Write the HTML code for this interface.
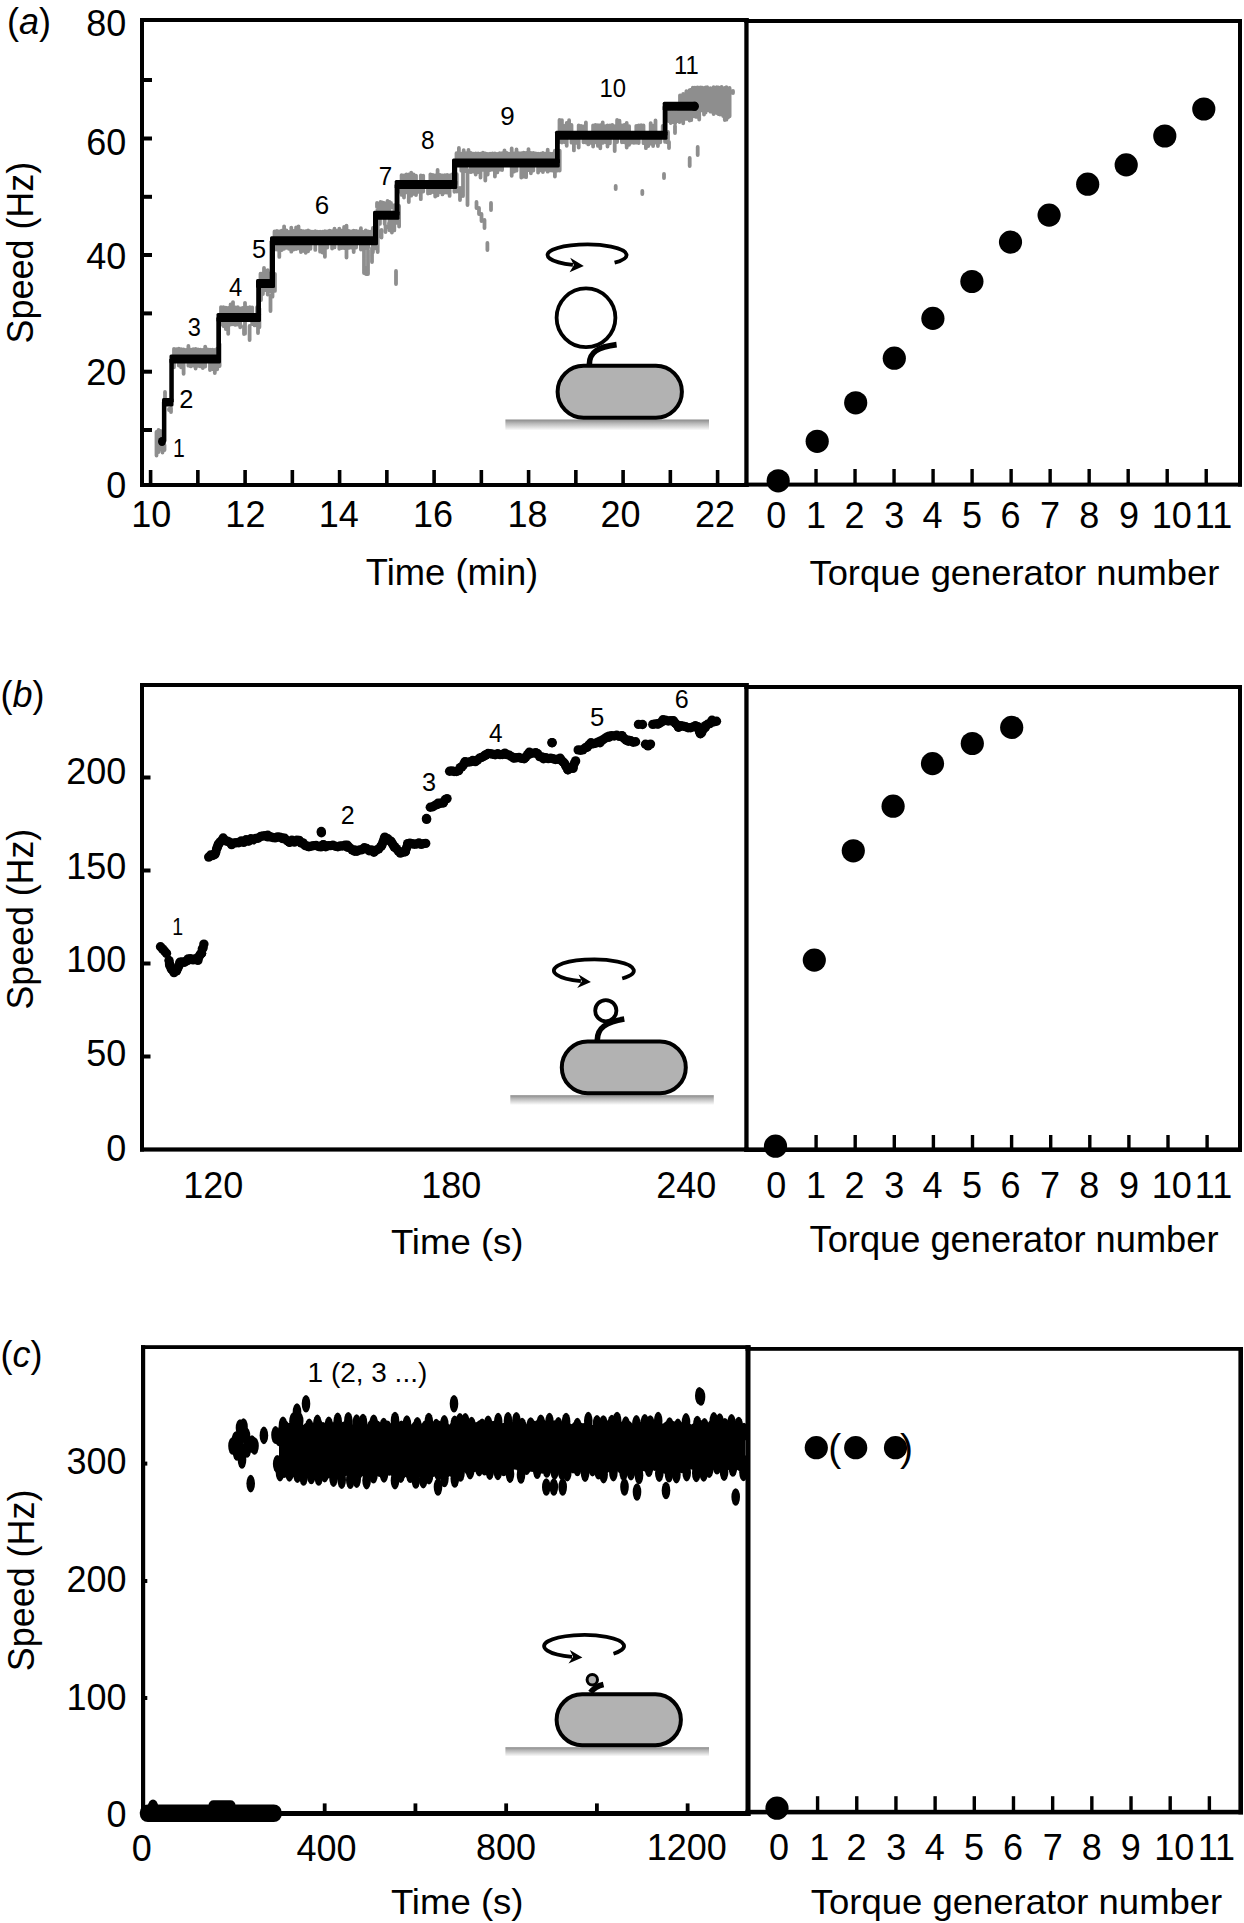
<!DOCTYPE html>
<html><head><meta charset="utf-8"><title>Figure</title>
<style>html,body{margin:0;padding:0;background:#fff}svg{display:block}text{font-family:"Liberation Sans",Arial,Helvetica,sans-serif}</style>
</head><body>
<svg width="1244" height="1923" viewBox="0 0 1244 1923" font-family="'Liberation Sans', Arial, Helvetica, sans-serif" fill="#000">
<defs><linearGradient id="gg" x1="0" y1="0" x2="0" y2="1"><stop offset="0" stop-color="#8a8a8a"/><stop offset="0.35" stop-color="#b8b8b8"/><stop offset="1" stop-color="#ffffff"/></linearGradient></defs>
<rect width="1244" height="1923" fill="#fff"/>
<path d="M174.0 348.8V367.3M176.4 349.1V359.0M178.8 348.7V365.6M181.2 349.2V367.4M183.6 349.5V373.8M186.0 350.0V359.0M188.4 346.0V365.7M190.8 349.7V366.4M193.2 349.1V365.6M195.6 348.9V368.5M198.0 349.4V365.9M200.4 349.6V366.4M202.8 349.8V368.0M205.2 346.6V366.6M207.6 349.3V359.0M210.0 349.7V370.1M212.4 349.6V369.0M214.8 349.8V373.1M217.2 348.7V369.3M219.6 344.1V366.1M221.0 307.1V324.3M223.4 307.2V326.0M225.8 307.6V329.0M228.2 307.9V333.8M230.6 304.5V324.5M233.0 302.1V324.3M235.4 307.4V324.9M237.8 307.1V324.6M240.2 308.4V327.3M242.6 308.0V317.5M245.0 302.8V333.7M247.4 307.7V317.5M249.8 307.2V317.5M252.2 307.3V324.1M254.6 317.5V325.4M257.0 307.2V324.6M259.4 308.4V327.2M260.5 273.7V297.5M262.9 273.2V294.0M265.3 274.0V290.2M267.7 270.1V294.6M270.1 273.4V291.7M272.5 269.6V296.7M274.9 273.8V290.9M274.5 231.5V249.5M276.9 231.0V249.5M279.3 231.4V256.9M281.7 230.7V250.0M284.1 226.3V248.8M286.5 230.5V247.8M288.9 231.8V248.8M291.3 227.6V251.7M293.7 230.9V249.5M296.1 227.3V249.1M298.5 226.3V248.4M300.9 230.6V252.0M303.3 231.1V250.9M305.7 231.1V252.8M308.1 230.4V251.3M310.5 231.4V248.8M312.9 231.6V240.8M315.3 231.1V249.9M317.7 231.6V240.8M320.1 231.7V251.7M322.5 231.6V252.6M324.9 231.1V256.8M327.3 231.5V247.5M329.7 230.6V240.8M332.1 231.1V248.5M334.5 228.6V247.4M336.9 231.0V240.8M339.3 228.6V248.8M341.7 230.7V248.1M344.1 227.0V248.1M346.5 225.6V257.6M348.9 231.0V247.9M351.3 231.3V247.6M353.7 230.6V252.1M356.1 230.9V247.5M358.5 231.4V240.8M360.9 228.2V249.6M363.3 231.8V247.9M365.7 230.5V247.8M368.1 231.4V248.1M370.5 231.7V240.8M372.9 228.0V252.3M375.3 231.7V248.4M377.7 225.8V252.1M377.5 205.7V222.5M379.9 205.3V223.9M382.3 202.4V215.3M384.7 205.3V224.1M387.1 205.1V215.3M389.5 201.8V230.3M391.9 215.3V232.6M394.3 205.2V230.4M396.7 205.2V222.8M399.1 206.0V226.5M399.2 184.6V191.5M401.6 175.1V194.9M404.0 175.4V197.6M406.4 174.5V192.4M408.8 174.4V202.0M411.2 172.6V195.7M413.6 174.3V193.9M416.0 175.6V195.0M418.4 184.6V191.8M420.8 175.5V199.2M423.2 175.6V191.6M428.0 184.6V193.5M430.4 174.3V193.1M432.8 174.8V192.0M435.2 175.5V196.6M437.6 169.9V195.3M440.0 174.9V192.0M442.4 175.4V194.4M444.8 175.2V192.5M447.2 175.0V192.7M449.6 175.3V195.9M452.0 174.3V184.6M454.4 175.5V191.8M456.8 174.2V191.5M456.5 153.2V163.0M458.9 147.9V163.0M461.3 153.6V170.7M463.7 150.2V171.8M466.1 153.2V171.3M468.5 150.0V163.0M470.9 152.9V172.2M473.3 153.6V171.5M475.7 153.3V174.6M478.1 153.3V172.0M480.5 153.7V177.6M482.9 152.7V169.9M485.3 153.3V180.5M487.7 153.9V174.5M490.1 153.6V170.0M492.5 153.5V169.7M494.9 153.3V176.6M497.3 153.9V172.4M499.7 153.2V169.7M502.1 153.1V170.1M504.5 150.3V163.0M506.9 153.0V163.0M509.3 153.8V163.0M511.7 148.4V175.8M514.1 153.5V171.5M516.5 149.5V170.7M518.9 153.2V163.0M521.3 153.2V177.6M523.7 152.7V176.7M526.1 152.8V177.2M528.5 149.1V170.1M530.9 153.0V173.3M533.3 152.9V170.5M535.7 153.5V163.0M538.1 153.7V172.6M540.5 153.7V170.3M542.9 152.8V172.1M545.3 153.7V169.5M547.7 149.7V171.7M550.1 153.7V170.4M552.5 153.6V170.7M554.9 150.7V176.5M557.3 153.2V170.7M559.7 150.6V170.6M559.5 119.9V141.9M561.9 120.1V142.5M564.3 126.0V142.0M566.7 122.9V145.8M569.1 120.2V135.3M571.5 124.9V142.7M573.9 135.3V150.4M576.3 135.3V142.9M578.7 125.3V147.5M581.1 126.0V135.3M583.5 126.3V142.3M585.9 122.5V142.6M588.3 135.3V144.4M590.7 135.3V142.8M593.1 125.3V146.5M595.5 124.9V142.4M597.9 125.2V145.9M600.3 125.2V148.3M602.7 122.5V142.9M605.1 126.2V142.1M607.5 125.5V146.6M609.9 125.5V143.3M612.3 125.0V135.3M614.7 126.2V151.1M617.1 120.0V142.1M619.5 120.7V135.3M621.9 125.4V142.3M624.3 124.9V142.3M626.7 122.9V147.6M629.1 126.1V144.8M631.5 135.3V142.6M633.9 135.3V142.9M636.3 125.8V142.7M638.7 125.4V143.0M641.1 125.2V135.3M643.5 125.4V143.2M645.9 135.3V148.2M648.3 135.3V146.1M650.7 123.1V143.7M653.1 125.6V146.1M655.5 120.4V142.5M657.9 135.3V146.0M660.3 135.3V142.3M662.7 126.0V135.3M665.1 126.0V141.9M667.5 135.3V142.4M156.5 432.0V455.5M158.5 430.0V452.0M160.5 431.0V449.0M162.5 445.0V452.5M164.5 445.0V450.0M165.0 392.0V398.0M171.0 408.0V412.0M169.0 409.0V410.0M270.5 296.0V311.0M264.0 268.0V278.0M261.0 289.0V300.0M381.5 230.0V237.5M385.5 226.0V232.0M389.0 223.0V228.0M377.5 224.0V231.0M393.0 221.0V225.0M396.0 271.0V284.0M364.0 249.0V273.0M368.0 250.0V274.0M366.0 268.0V274.0M372.0 248.0V262.0M377.0 203.0V207.0M380.5 202.0V207.0M384.0 203.0V207.0M387.5 201.0V207.0M391.0 203.0V207.0M249.6 326.0V340.0M244.0 326.0V334.0M258.0 326.0V333.0M467.5 170.0V205.0M463.0 170.0V196.0M460.0 188.0V200.0M476.5 202.0V208.0M479.0 208.0V214.0M481.5 214.0V221.0M484.5 220.0V228.0M491.0 203.0V210.0M487.4 243.0V250.0M615.7 186.0V189.0M642.3 191.0V194.0M664.0 174.0V178.0M689.7 158.0V166.0M697.7 147.0V155.0M733.0 91.0V93.0M668.0 132.0V140.0M675.0 126.0V133.0M669.0 142.0V148.0M668.5 112.0V121.0M670.7 112.0V123.0M672.9 112.0V122.0M675.1 112.0V123.5M677.3 112.0V121.0M679.5 112.0V122.0M680.0 95.3V117.5M681.6 95.5V118.1M683.2 94.0V123.3M684.8 94.4V117.3M686.4 91.2V118.9M688.0 92.1V117.0M689.6 90.2V120.5M691.2 89.7V120.2M692.8 87.7V116.4M694.4 87.7V115.9M696.0 87.7V116.9M697.6 87.5V115.1M699.2 87.7V119.5M700.8 87.5V108.6M702.4 87.6V110.5M704.0 88.3V114.5M705.6 87.3V112.6M707.2 87.1V108.0M708.8 89.2V110.3M710.4 88.1V111.7M712.0 89.2V110.3M713.6 87.1V114.0M715.2 89.1V109.9M716.8 87.2V113.1M718.4 87.4V114.0M720.0 88.9V114.6M721.6 87.0V114.4M723.2 88.8V116.1M724.8 87.9V120.0M726.4 87.1V119.7M728.0 89.0V117.6M729.6 87.9V116.3" stroke="#8e8e8e" stroke-width="3.8" stroke-linecap="round" fill="none"/>
<ellipse cx="162" cy="441.5" rx="4" ry="4.6"/>
<rect x="162" y="397.9" width="11.5" height="8.6" rx="1.5"/>
<rect x="169.5" y="354.5" width="51.5" height="9.0" rx="1.5"/>
<rect x="216.5" y="313.0" width="44.5" height="9.0" rx="1.5"/>
<rect x="256" y="278.9" width="19.0" height="9.0" rx="1.5"/>
<rect x="270" y="236.3" width="108.0" height="9.0" rx="1.5"/>
<rect x="373" y="210.8" width="26.5" height="9.0" rx="1.5"/>
<rect x="394.7" y="180.1" width="62.5" height="9.0" rx="1.5"/>
<rect x="452" y="158.5" width="107.8" height="9.0" rx="1.5"/>
<rect x="555" y="130.8" width="112.5" height="9.0" rx="1.5"/>
<rect x="662.7" y="101.8" width="34.3" height="9.0" rx="1.5"/>
<rect x="161.90" y="402.00" width="4.50" height="39.50" fill="#000"/>
<rect x="169.30" y="359.00" width="4.50" height="43.20" fill="#000"/>
<rect x="216.30" y="317.50" width="4.70" height="41.50" fill="#000"/>
<rect x="256.20" y="283.40" width="4.80" height="34.10" fill="#000"/>
<rect x="269.70" y="240.80" width="5.30" height="42.60" fill="#000"/>
<rect x="373.00" y="215.30" width="5.00" height="25.50" fill="#000"/>
<rect x="394.60" y="184.60" width="4.90" height="30.70" fill="#000"/>
<rect x="452.00" y="163.00" width="5.20" height="21.60" fill="#000"/>
<rect x="555.00" y="135.30" width="4.80" height="27.70" fill="#000"/>
<rect x="662.70" y="106.30" width="4.80" height="29.00" fill="#000"/>
<circle cx="694.5" cy="106.3" r="4.5"/>
<rect x="140.00" y="18.00" width="4.00" height="469.00" fill="#000"/>
<rect x="140.00" y="18.00" width="608.60" height="4.00" fill="#000"/>
<rect x="140.00" y="483.00" width="608.60" height="4.00" fill="#000"/>
<rect x="744.30" y="18.00" width="4.30" height="469.00" fill="#000"/>
<rect x="744.30" y="19.00" width="497.70" height="4.00" fill="#000"/>
<rect x="744.30" y="482.60" width="497.70" height="4.00" fill="#000"/>
<rect x="1238.00" y="19.00" width="4.00" height="467.60" fill="#000"/>
<rect x="144.00" y="78.00" width="8.00" height="4.00" fill="#000"/>
<rect x="144.00" y="136.50" width="8.00" height="4.00" fill="#000"/>
<rect x="144.00" y="194.80" width="8.00" height="4.00" fill="#000"/>
<rect x="144.00" y="253.00" width="8.00" height="4.00" fill="#000"/>
<rect x="144.00" y="311.40" width="8.00" height="4.00" fill="#000"/>
<rect x="144.00" y="369.70" width="8.00" height="4.00" fill="#000"/>
<rect x="144.00" y="428.00" width="8.00" height="4.00" fill="#000"/>
<rect x="148.80" y="470.00" width="3.60" height="13.50" fill="#000"/>
<rect x="196.05" y="470.00" width="3.60" height="13.50" fill="#000"/>
<rect x="243.30" y="470.00" width="3.60" height="13.50" fill="#000"/>
<rect x="290.55" y="470.00" width="3.60" height="13.50" fill="#000"/>
<rect x="337.80" y="470.00" width="3.60" height="13.50" fill="#000"/>
<rect x="385.05" y="470.00" width="3.60" height="13.50" fill="#000"/>
<rect x="432.30" y="470.00" width="3.60" height="13.50" fill="#000"/>
<rect x="479.55" y="470.00" width="3.60" height="13.50" fill="#000"/>
<rect x="526.80" y="470.00" width="3.60" height="13.50" fill="#000"/>
<rect x="574.05" y="470.00" width="3.60" height="13.50" fill="#000"/>
<rect x="621.30" y="470.00" width="3.60" height="13.50" fill="#000"/>
<rect x="668.55" y="470.00" width="3.60" height="13.50" fill="#000"/>
<rect x="715.80" y="470.00" width="3.60" height="13.50" fill="#000"/>
<rect x="814.32" y="469.00" width="3.40" height="14.00" fill="#000"/>
<rect x="853.34" y="469.00" width="3.40" height="14.00" fill="#000"/>
<rect x="892.36" y="469.00" width="3.40" height="14.00" fill="#000"/>
<rect x="931.38" y="469.00" width="3.40" height="14.00" fill="#000"/>
<rect x="970.40" y="469.00" width="3.40" height="14.00" fill="#000"/>
<rect x="1009.42" y="469.00" width="3.40" height="14.00" fill="#000"/>
<rect x="1048.44" y="469.00" width="3.40" height="14.00" fill="#000"/>
<rect x="1087.46" y="469.00" width="3.40" height="14.00" fill="#000"/>
<rect x="1126.48" y="469.00" width="3.40" height="14.00" fill="#000"/>
<rect x="1165.50" y="469.00" width="3.40" height="14.00" fill="#000"/>
<rect x="1204.52" y="469.00" width="3.40" height="14.00" fill="#000"/>
<circle cx="778.2" cy="480.8" r="11.6"/>
<circle cx="817.2" cy="441.3" r="11.6"/>
<circle cx="855.7" cy="402.8" r="11.6"/>
<circle cx="894.3" cy="358.2" r="11.6"/>
<circle cx="932.9" cy="318.4" r="11.6"/>
<circle cx="971.9" cy="281.5" r="11.6"/>
<circle cx="1010.5" cy="242.1" r="11.6"/>
<circle cx="1049.1" cy="215.1" r="11.6"/>
<circle cx="1087.7" cy="184.2" r="11.6"/>
<circle cx="1126.2" cy="164.9" r="11.6"/>
<circle cx="1164.8" cy="136" r="11.6"/>
<circle cx="1203.8" cy="109" r="11.6"/>
<text x="7.07" y="34.30" font-size="36.0">(<tspan font-style="italic">a</tspan>)</text>
<text x="86.24" y="35.60" font-size="36.0">80</text>
<text x="86.24" y="155.30" font-size="36.0">60</text>
<text x="86.24" y="269.30" font-size="36.0">40</text>
<text x="86.24" y="385.10" font-size="36.0">20</text>
<text x="106.25" y="498.30" font-size="36.0">0</text>
<text x="131.14" y="527.20" font-size="36.0">10</text>
<text x="225.37" y="527.20" font-size="36.0">12</text>
<text x="318.65" y="527.20" font-size="36.0">14</text>
<text x="413.05" y="527.20" font-size="36.0">16</text>
<text x="507.55" y="527.20" font-size="36.0">18</text>
<text x="600.54" y="527.20" font-size="36.0">20</text>
<text x="695.07" y="527.20" font-size="36.0">22</text>
<text transform="translate(365.80 584.60) scale(1.0106 1)" font-size="36.0" >Time (min)</text>
<text transform="translate(33.30 343.45) rotate(-90) scale(0.9557 1)" font-size="37.6">Speed (Hz)</text>
<text x="766.16" y="527.50" font-size="36.0">0</text>
<text x="806.06" y="527.50" font-size="36.0">1</text>
<text x="844.54" y="527.50" font-size="36.0">2</text>
<text x="884.20" y="527.50" font-size="36.0">3</text>
<text x="922.49" y="527.50" font-size="36.0">4</text>
<text x="961.98" y="527.50" font-size="36.0">5</text>
<text x="1000.43" y="527.50" font-size="36.0">6</text>
<text x="1039.96" y="527.50" font-size="36.0">7</text>
<text x="1079.24" y="527.50" font-size="36.0">8</text>
<text x="1118.88" y="527.50" font-size="36.0">9</text>
<text x="1151.64" y="527.50" font-size="36.0">10</text>
<text x="1194.84" y="527.50" font-size="36.0">11</text>
<text transform="translate(809.50 584.70) scale(1.009 1)" font-size="36.0" >Torque generator number</text>
<text transform="translate(172.97 457.00) scale(0.85 1)" font-size="25">1</text>
<text transform="translate(179.23 408.40) scale(0.9599 1)" font-size="26.5" >2</text>
<text transform="translate(187.70 336.20) scale(0.8916 1)" font-size="26.5" >3</text>
<text transform="translate(228.88 295.50) scale(0.8985 1)" font-size="26.5" >4</text>
<text transform="translate(251.99 258.20) scale(0.9553 1)" font-size="26.5" >5</text>
<text transform="translate(314.70 213.60) scale(0.9802 1)" font-size="26.5" >6</text>
<text transform="translate(378.74 184.60) scale(0.9143 1)" font-size="26.5" >7</text>
<text transform="translate(420.93 148.90) scale(0.9192 1)" font-size="26.5" >8</text>
<text transform="translate(500.21 125.30) scale(0.9802 1)" font-size="26.5" >9</text>
<text transform="translate(599.39 96.50) scale(0.9 1)" font-size="26.5">10</text>
<text transform="translate(673.93 74.20) scale(0.9 1)" font-size="26.5">11</text>
<rect x="505.4" y="419.5" width="203.6" height="11.0" fill="url(#gg)"/>
<rect x="557.6" y="365.7" width="124.3" height="52.0" rx="26.0" fill="#b2b2b2" stroke="#000" stroke-width="4"/>
<path d="M589.4 364 C589.4 352 598 347 616.6 344.6" fill="none" stroke="#000" stroke-width="5.6"/>
<circle cx="586" cy="317.8" r="29.4" fill="#fff" stroke="#000" stroke-width="3.8"/>
<path d="M614.6 262.6 A39.5 10.6 0 1 0 572.9 264.9" fill="none" stroke="#000" stroke-width="3.8" stroke-linecap="butt"/>
<path d="M583.8 265.9 L570.2 257.7 L573.9 264.9 L569.6 272.2 Z" fill="#000"/>
<rect x="140.00" y="683.00" width="4.00" height="468.60" fill="#000"/>
<rect x="140.00" y="683.00" width="608.60" height="4.00" fill="#000"/>
<rect x="140.00" y="1147.40" width="608.60" height="4.20" fill="#000"/>
<rect x="744.30" y="683.00" width="4.30" height="469.00" fill="#000"/>
<rect x="744.30" y="685.00" width="497.70" height="4.00" fill="#000"/>
<rect x="744.30" y="1147.40" width="497.70" height="4.60" fill="#000"/>
<rect x="1238.00" y="685.00" width="4.00" height="467.00" fill="#000"/>
<rect x="144.00" y="775.50" width="6.50" height="4.00" fill="#000"/>
<rect x="144.00" y="868.50" width="6.50" height="4.00" fill="#000"/>
<rect x="144.00" y="961.50" width="6.50" height="4.00" fill="#000"/>
<rect x="144.00" y="1054.50" width="6.50" height="4.00" fill="#000"/>
<rect x="814.40" y="1135.00" width="3.40" height="13.00" fill="#000"/>
<rect x="853.50" y="1135.00" width="3.40" height="13.00" fill="#000"/>
<rect x="892.60" y="1135.00" width="3.40" height="13.00" fill="#000"/>
<rect x="931.70" y="1135.00" width="3.40" height="13.00" fill="#000"/>
<rect x="970.80" y="1135.00" width="3.40" height="13.00" fill="#000"/>
<rect x="1009.90" y="1135.00" width="3.40" height="13.00" fill="#000"/>
<rect x="1049.00" y="1135.00" width="3.40" height="13.00" fill="#000"/>
<rect x="1088.10" y="1135.00" width="3.40" height="13.00" fill="#000"/>
<rect x="1127.20" y="1135.00" width="3.40" height="13.00" fill="#000"/>
<rect x="1166.30" y="1135.00" width="3.40" height="13.00" fill="#000"/>
<rect x="1205.40" y="1135.00" width="3.40" height="13.00" fill="#000"/>
<circle cx="775.5" cy="1146.2" r="11.6"/>
<circle cx="814.3" cy="960.1" r="11.6"/>
<circle cx="853.3" cy="850.8" r="11.6"/>
<circle cx="893.1" cy="806.2" r="11.6"/>
<circle cx="932.5" cy="763.6" r="11.6"/>
<circle cx="972.3" cy="743.5" r="11.6"/>
<circle cx="1011.7" cy="727.4" r="11.6"/>
<g><circle cx="160.5" cy="946.7" r="4.7"/><circle cx="162.5" cy="948.9" r="4.7"/><circle cx="164.5" cy="951.0" r="4.7"/><circle cx="166.5" cy="953.4" r="4.7"/><circle cx="169.0" cy="960.5" r="4.7"/><circle cx="169.5" cy="963.9" r="4.7"/><circle cx="170.0" cy="965.0" r="4.7"/><circle cx="170.0" cy="965.9" r="4.7"/><circle cx="171.3" cy="968.9" r="4.7"/><circle cx="172.7" cy="970.1" r="4.7"/><circle cx="174.0" cy="972.6" r="4.7"/><circle cx="174.0" cy="970.8" r="4.7"/><circle cx="176.5" cy="970.9" r="4.7"/><circle cx="176.5" cy="970.4" r="4.7"/><circle cx="177.7" cy="968.5" r="4.7"/><circle cx="178.8" cy="966.0" r="4.7"/><circle cx="180.0" cy="962.2" r="4.7"/><circle cx="180.0" cy="962.7" r="4.7"/><circle cx="182.1" cy="961.9" r="4.7"/><circle cx="184.1" cy="962.4" r="4.7"/><circle cx="186.1" cy="961.1" r="4.7"/><circle cx="188.2" cy="958.9" r="4.7"/><circle cx="188.2" cy="960.3" r="4.7"/><circle cx="190.6" cy="958.8" r="4.7"/><circle cx="193.1" cy="959.9" r="4.7"/><circle cx="195.5" cy="958.8" r="4.7"/><circle cx="197.9" cy="958.5" r="4.7"/><circle cx="197.9" cy="960.4" r="4.7"/><circle cx="199.1" cy="956.6" r="4.7"/><circle cx="200.3" cy="954.2" r="4.7"/><circle cx="201.5" cy="953.5" r="4.7"/><circle cx="201.5" cy="953.2" r="4.7"/><circle cx="202.3" cy="949.1" r="4.7"/><circle cx="203.1" cy="947.8" r="4.7"/><circle cx="203.9" cy="944.1" r="4.7"/><circle cx="208.7" cy="857.1" r="4.7"/><circle cx="210.7" cy="855.0" r="4.7"/><circle cx="212.8" cy="855.5" r="4.7"/><circle cx="214.8" cy="853.9" r="4.7"/><circle cx="214.8" cy="854.5" r="4.7"/><circle cx="215.7" cy="852.3" r="4.7"/><circle cx="216.6" cy="848.9" r="4.7"/><circle cx="217.5" cy="846.9" r="4.7"/><circle cx="218.4" cy="844.4" r="4.7"/><circle cx="218.4" cy="844.3" r="4.7"/><circle cx="220.0" cy="842.1" r="4.7"/><circle cx="221.6" cy="840.7" r="4.7"/><circle cx="223.2" cy="839.3" r="4.7"/><circle cx="223.2" cy="838.0" r="4.7"/><circle cx="225.3" cy="840.7" r="4.7"/><circle cx="227.4" cy="841.1" r="4.7"/><circle cx="229.5" cy="842.3" r="4.7"/><circle cx="231.6" cy="844.6" r="4.7"/><circle cx="231.6" cy="843.9" r="4.7"/><circle cx="234.0" cy="843.0" r="4.7"/><circle cx="236.4" cy="842.8" r="4.7"/><circle cx="238.8" cy="842.8" r="4.7"/><circle cx="241.3" cy="840.9" r="4.7"/><circle cx="243.7" cy="842.4" r="4.7"/><circle cx="246.1" cy="839.8" r="4.7"/><circle cx="248.5" cy="840.8" r="4.7"/><circle cx="248.5" cy="841.1" r="4.7"/><circle cx="250.9" cy="838.7" r="4.7"/><circle cx="253.3" cy="839.8" r="4.7"/><circle cx="255.7" cy="838.4" r="4.7"/><circle cx="258.1" cy="838.3" r="4.7"/><circle cx="260.6" cy="836.5" r="4.7"/><circle cx="263.0" cy="836.0" r="4.7"/><circle cx="265.4" cy="835.7" r="4.7"/><circle cx="267.8" cy="836.9" r="4.7"/><circle cx="267.8" cy="835.2" r="4.7"/><circle cx="270.2" cy="836.8" r="4.7"/><circle cx="272.6" cy="837.5" r="4.7"/><circle cx="275.1" cy="837.9" r="4.7"/><circle cx="277.5" cy="836.9" r="4.7"/><circle cx="279.9" cy="837.2" r="4.7"/><circle cx="282.3" cy="838.0" r="4.7"/><circle cx="282.3" cy="838.5" r="4.7"/><circle cx="284.7" cy="838.2" r="4.7"/><circle cx="287.1" cy="840.8" r="4.7"/><circle cx="289.5" cy="842.2" r="4.7"/><circle cx="289.5" cy="842.3" r="4.7"/><circle cx="291.9" cy="840.3" r="4.7"/><circle cx="294.4" cy="842.1" r="4.7"/><circle cx="296.8" cy="840.1" r="4.7"/><circle cx="299.2" cy="840.4" r="4.7"/><circle cx="299.2" cy="841.0" r="4.7"/><circle cx="301.1" cy="843.0" r="4.7"/><circle cx="303.0" cy="842.9" r="4.7"/><circle cx="305.0" cy="845.5" r="4.7"/><circle cx="306.9" cy="845.9" r="4.7"/><circle cx="308.8" cy="846.6" r="4.7"/><circle cx="308.8" cy="846.6" r="4.7"/><circle cx="311.2" cy="846.1" r="4.7"/><circle cx="313.6" cy="845.6" r="4.7"/><circle cx="316.1" cy="845.5" r="4.7"/><circle cx="318.5" cy="846.5" r="4.7"/><circle cx="320.9" cy="846.9" r="4.7"/><circle cx="323.3" cy="844.9" r="4.7"/><circle cx="323.3" cy="844.6" r="4.7"/><circle cx="325.7" cy="846.7" r="4.7"/><circle cx="328.1" cy="845.8" r="4.7"/><circle cx="330.5" cy="845.6" r="4.7"/><circle cx="332.9" cy="845.3" r="4.7"/><circle cx="335.4" cy="846.2" r="4.7"/><circle cx="337.8" cy="846.7" r="4.7"/><circle cx="340.2" cy="846.0" r="4.7"/><circle cx="342.6" cy="846.0" r="4.7"/><circle cx="345.0" cy="845.3" r="4.7"/><circle cx="347.4" cy="847.2" r="4.7"/><circle cx="347.4" cy="845.3" r="4.7"/><circle cx="349.8" cy="847.8" r="4.7"/><circle cx="352.2" cy="850.0" r="4.7"/><circle cx="354.6" cy="849.9" r="4.7"/><circle cx="354.6" cy="851.2" r="4.7"/><circle cx="357.0" cy="851.2" r="4.7"/><circle cx="359.5" cy="850.0" r="4.7"/><circle cx="361.9" cy="849.8" r="4.7"/><circle cx="364.3" cy="847.8" r="4.7"/><circle cx="364.3" cy="848.6" r="4.7"/><circle cx="366.7" cy="848.5" r="4.7"/><circle cx="369.1" cy="850.7" r="4.7"/><circle cx="371.5" cy="850.0" r="4.7"/><circle cx="373.9" cy="851.0" r="4.7"/><circle cx="373.9" cy="852.2" r="4.7"/><circle cx="376.3" cy="850.3" r="4.7"/><circle cx="378.7" cy="848.9" r="4.7"/><circle cx="381.1" cy="846.2" r="4.7"/><circle cx="381.1" cy="846.3" r="4.7"/><circle cx="382.0" cy="844.7" r="4.7"/><circle cx="383.0" cy="842.1" r="4.7"/><circle cx="383.9" cy="839.5" r="4.7"/><circle cx="384.8" cy="837.7" r="4.7"/><circle cx="384.8" cy="837.1" r="4.7"/><circle cx="387.8" cy="838.8" r="4.7"/><circle cx="390.8" cy="841.4" r="4.7"/><circle cx="390.8" cy="841.3" r="4.7"/><circle cx="392.0" cy="843.0" r="4.7"/><circle cx="393.2" cy="845.1" r="4.7"/><circle cx="394.4" cy="847.1" r="4.7"/><circle cx="394.4" cy="846.6" r="4.7"/><circle cx="396.4" cy="848.6" r="4.7"/><circle cx="398.4" cy="851.3" r="4.7"/><circle cx="400.4" cy="853.1" r="4.7"/><circle cx="400.4" cy="852.0" r="4.7"/><circle cx="402.9" cy="852.3" r="4.7"/><circle cx="405.3" cy="851.7" r="4.7"/><circle cx="405.3" cy="851.5" r="4.7"/><circle cx="406.1" cy="849.1" r="4.7"/><circle cx="406.9" cy="846.9" r="4.7"/><circle cx="407.7" cy="843.6" r="4.7"/><circle cx="407.7" cy="844.3" r="4.7"/><circle cx="409.9" cy="843.3" r="4.7"/><circle cx="412.2" cy="843.7" r="4.7"/><circle cx="414.4" cy="844.2" r="4.7"/><circle cx="416.7" cy="844.0" r="4.7"/><circle cx="418.9" cy="843.0" r="4.7"/><circle cx="421.2" cy="844.4" r="4.7"/><circle cx="423.4" cy="843.6" r="4.7"/><circle cx="425.7" cy="843.4" r="4.7"/><circle cx="321.3" cy="831.5" r="4.7"/><circle cx="321.4" cy="832.7" r="4.7"/><circle cx="426.5" cy="818.5" r="4.7"/><circle cx="426.6" cy="819.4" r="4.7"/><circle cx="430.3" cy="807.2" r="4.7"/><circle cx="432.9" cy="806.7" r="4.7"/><circle cx="435.4" cy="805.1" r="4.7"/><circle cx="438.0" cy="804.2" r="4.7"/><circle cx="438.0" cy="803.2" r="4.7"/><circle cx="440.6" cy="803.2" r="4.7"/><circle cx="443.2" cy="802.7" r="4.7"/><circle cx="443.2" cy="802.9" r="4.7"/><circle cx="445.1" cy="799.7" r="4.7"/><circle cx="447.0" cy="798.6" r="4.7"/><circle cx="449.6" cy="771.3" r="4.7"/><circle cx="451.9" cy="770.9" r="4.7"/><circle cx="454.1" cy="771.5" r="4.7"/><circle cx="456.4" cy="771.5" r="4.7"/><circle cx="458.6" cy="770.5" r="4.7"/><circle cx="458.6" cy="770.6" r="4.7"/><circle cx="460.2" cy="767.6" r="4.7"/><circle cx="461.8" cy="766.9" r="4.7"/><circle cx="463.4" cy="764.9" r="4.7"/><circle cx="465.0" cy="761.7" r="4.7"/><circle cx="465.0" cy="762.2" r="4.7"/><circle cx="467.6" cy="762.1" r="4.7"/><circle cx="470.1" cy="761.9" r="4.7"/><circle cx="472.7" cy="760.5" r="4.7"/><circle cx="475.3" cy="761.6" r="4.7"/><circle cx="475.3" cy="761.2" r="4.7"/><circle cx="477.4" cy="760.1" r="4.7"/><circle cx="479.4" cy="758.3" r="4.7"/><circle cx="481.5" cy="757.4" r="4.7"/><circle cx="483.5" cy="756.5" r="4.7"/><circle cx="485.6" cy="754.9" r="4.7"/><circle cx="485.6" cy="755.1" r="4.7"/><circle cx="488.0" cy="753.5" r="4.7"/><circle cx="490.4" cy="753.7" r="4.7"/><circle cx="492.8" cy="754.3" r="4.7"/><circle cx="495.2" cy="754.7" r="4.7"/><circle cx="497.7" cy="753.7" r="4.7"/><circle cx="500.1" cy="754.6" r="4.7"/><circle cx="502.5" cy="754.5" r="4.7"/><circle cx="504.9" cy="753.1" r="4.7"/><circle cx="504.9" cy="754.0" r="4.7"/><circle cx="507.1" cy="754.6" r="4.7"/><circle cx="509.4" cy="755.3" r="4.7"/><circle cx="511.6" cy="756.6" r="4.7"/><circle cx="513.9" cy="758.1" r="4.7"/><circle cx="513.9" cy="757.8" r="4.7"/><circle cx="516.5" cy="757.8" r="4.7"/><circle cx="519.0" cy="757.5" r="4.7"/><circle cx="521.6" cy="758.4" r="4.7"/><circle cx="524.2" cy="758.2" r="4.7"/><circle cx="524.2" cy="758.7" r="4.7"/><circle cx="525.9" cy="757.0" r="4.7"/><circle cx="527.6" cy="754.5" r="4.7"/><circle cx="529.3" cy="754.2" r="4.7"/><circle cx="529.3" cy="752.2" r="4.7"/><circle cx="532.5" cy="753.1" r="4.7"/><circle cx="535.8" cy="752.8" r="4.7"/><circle cx="535.8" cy="753.1" r="4.7"/><circle cx="537.7" cy="753.8" r="4.7"/><circle cx="539.6" cy="756.6" r="4.7"/><circle cx="541.6" cy="756.9" r="4.7"/><circle cx="543.5" cy="757.5" r="4.7"/><circle cx="543.5" cy="758.7" r="4.7"/><circle cx="545.9" cy="757.6" r="4.7"/><circle cx="548.3" cy="758.6" r="4.7"/><circle cx="550.7" cy="758.1" r="4.7"/><circle cx="553.0" cy="758.7" r="4.7"/><circle cx="555.4" cy="759.5" r="4.7"/><circle cx="557.8" cy="759.2" r="4.7"/><circle cx="560.2" cy="758.3" r="4.7"/><circle cx="560.2" cy="759.2" r="4.7"/><circle cx="561.7" cy="760.7" r="4.7"/><circle cx="563.1" cy="762.0" r="4.7"/><circle cx="564.5" cy="763.3" r="4.7"/><circle cx="566.0" cy="766.2" r="4.7"/><circle cx="566.0" cy="766.1" r="4.7"/><circle cx="567.9" cy="769.7" r="4.7"/><circle cx="567.9" cy="769.7" r="4.7"/><circle cx="570.5" cy="768.3" r="4.7"/><circle cx="573.0" cy="767.2" r="4.7"/><circle cx="573.0" cy="768.4" r="4.7"/><circle cx="574.3" cy="763.6" r="4.7"/><circle cx="575.6" cy="760.9" r="4.7"/><circle cx="552.0" cy="742.6" r="4.7"/><circle cx="552.1" cy="742.8" r="4.7"/><circle cx="578.2" cy="749.9" r="4.7"/><circle cx="580.5" cy="750.2" r="4.7"/><circle cx="582.7" cy="749.9" r="4.7"/><circle cx="585.0" cy="748.0" r="4.7"/><circle cx="587.2" cy="747.2" r="4.7"/><circle cx="587.2" cy="746.8" r="4.7"/><circle cx="589.1" cy="744.7" r="4.7"/><circle cx="591.0" cy="744.0" r="4.7"/><circle cx="591.0" cy="742.7" r="4.7"/><circle cx="593.2" cy="743.7" r="4.7"/><circle cx="595.5" cy="743.3" r="4.7"/><circle cx="597.8" cy="742.2" r="4.7"/><circle cx="600.0" cy="741.2" r="4.7"/><circle cx="600.0" cy="742.8" r="4.7"/><circle cx="602.2" cy="740.3" r="4.7"/><circle cx="604.5" cy="738.7" r="4.7"/><circle cx="606.8" cy="737.1" r="4.7"/><circle cx="609.0" cy="737.2" r="4.7"/><circle cx="609.0" cy="736.1" r="4.7"/><circle cx="611.6" cy="735.6" r="4.7"/><circle cx="614.2" cy="736.0" r="4.7"/><circle cx="616.7" cy="735.3" r="4.7"/><circle cx="619.3" cy="736.4" r="4.7"/><circle cx="621.9" cy="736.0" r="4.7"/><circle cx="621.9" cy="735.6" r="4.7"/><circle cx="624.1" cy="738.4" r="4.7"/><circle cx="626.2" cy="740.2" r="4.7"/><circle cx="628.4" cy="740.1" r="4.7"/><circle cx="628.4" cy="741.3" r="4.7"/><circle cx="630.8" cy="740.7" r="4.7"/><circle cx="633.2" cy="742.2" r="4.7"/><circle cx="635.6" cy="741.8" r="4.7"/><circle cx="638.5" cy="724.4" r="4.7"/><circle cx="642.5" cy="724.5" r="4.7"/><circle cx="645.5" cy="744.2" r="4.7"/><circle cx="648.0" cy="745.9" r="4.7"/><circle cx="650.5" cy="744.1" r="4.7"/><circle cx="652.8" cy="724.4" r="4.7"/><circle cx="655.4" cy="723.9" r="4.7"/><circle cx="658.0" cy="724.0" r="4.7"/><circle cx="658.0" cy="723.9" r="4.7"/><circle cx="660.5" cy="722.7" r="4.7"/><circle cx="663.0" cy="719.8" r="4.7"/><circle cx="663.0" cy="721.2" r="4.7"/><circle cx="665.6" cy="720.3" r="4.7"/><circle cx="668.2" cy="721.0" r="4.7"/><circle cx="670.8" cy="720.7" r="4.7"/><circle cx="673.4" cy="720.8" r="4.7"/><circle cx="673.4" cy="721.3" r="4.7"/><circle cx="675.1" cy="723.0" r="4.7"/><circle cx="676.8" cy="724.6" r="4.7"/><circle cx="678.5" cy="727.3" r="4.7"/><circle cx="678.5" cy="727.0" r="4.7"/><circle cx="680.9" cy="725.8" r="4.7"/><circle cx="683.3" cy="726.3" r="4.7"/><circle cx="685.7" cy="726.7" r="4.7"/><circle cx="688.1" cy="727.7" r="4.7"/><circle cx="690.6" cy="727.7" r="4.7"/><circle cx="693.0" cy="726.9" r="4.7"/><circle cx="695.4" cy="725.7" r="4.7"/><circle cx="697.8" cy="727.4" r="4.7"/><circle cx="697.8" cy="726.6" r="4.7"/><circle cx="698.7" cy="729.2" r="4.7"/><circle cx="699.5" cy="731.7" r="4.7"/><circle cx="700.4" cy="733.8" r="4.7"/><circle cx="700.4" cy="733.5" r="4.7"/><circle cx="701.7" cy="732.6" r="4.7"/><circle cx="703.0" cy="729.6" r="4.7"/><circle cx="704.2" cy="727.9" r="4.7"/><circle cx="705.5" cy="727.1" r="4.7"/><circle cx="705.5" cy="725.6" r="4.7"/><circle cx="707.7" cy="724.2" r="4.7"/><circle cx="709.8" cy="723.6" r="4.7"/><circle cx="712.0" cy="720.2" r="4.7"/><circle cx="712.0" cy="721.9" r="4.7"/><circle cx="714.2" cy="721.7" r="4.7"/><circle cx="716.5" cy="721.3" r="4.7"/></g>
<text x="0.57" y="706.80" font-size="36.0">(<tspan font-style="italic">b</tspan>)</text>
<text x="66.22" y="783.60" font-size="36.0">200</text>
<text x="66.22" y="879.00" font-size="36.0">150</text>
<text x="66.22" y="972.00" font-size="36.0">100</text>
<text x="86.24" y="1066.30" font-size="36.0">50</text>
<text x="106.25" y="1161.30" font-size="36.0">0</text>
<text x="183.26" y="1198.30" font-size="36.0" >120</text>
<text x="421.16" y="1198.30" font-size="36.0" >180</text>
<text x="656.20" y="1198.30" font-size="36.0" >240</text>
<text transform="translate(390.90 1253.90) scale(1.015 1)" font-size="36.0" >Time (s)</text>
<text transform="translate(33.30 1009.54) rotate(-90) scale(0.9508 1)" font-size="37.6">Speed (Hz)</text>
<text x="766.16" y="1198.00" font-size="36.0">0</text>
<text x="806.06" y="1198.00" font-size="36.0">1</text>
<text x="844.54" y="1198.00" font-size="36.0">2</text>
<text x="884.20" y="1198.00" font-size="36.0">3</text>
<text x="922.49" y="1198.00" font-size="36.0">4</text>
<text x="961.98" y="1198.00" font-size="36.0">5</text>
<text x="1000.43" y="1198.00" font-size="36.0">6</text>
<text x="1039.96" y="1198.00" font-size="36.0">7</text>
<text x="1079.24" y="1198.00" font-size="36.0">8</text>
<text x="1118.88" y="1198.00" font-size="36.0">9</text>
<text x="1151.64" y="1198.00" font-size="36.0">10</text>
<text x="1194.84" y="1198.00" font-size="36.0">11</text>
<text transform="translate(809.60 1252.30) scale(1.0068 1)" font-size="36.0" >Torque generator number</text>
<text transform="translate(172.15 934.60) scale(0.85 1)" font-size="23">1</text>
<text x="340.75" y="823.70" font-size="25" >2</text>
<text transform="translate(422.04 790.80) scale(1.0127 1)" font-size="25" >3</text>
<text transform="translate(488.96 742.20) scale(0.9762 1)" font-size="25" >4</text>
<text transform="translate(589.97 726.00) scale(1.0295 1)" font-size="25" >5</text>
<text transform="translate(674.74 707.50) scale(1.0043 1)" font-size="25" >6</text>
<rect x="510.3" y="1095.2" width="203.5" height="9.8" fill="url(#gg)"/>
<rect x="561.8" y="1041.6" width="124.0" height="51.6" rx="25.8" fill="#b2b2b2" stroke="#000" stroke-width="4"/>
<path d="M597.3 1040 C597.3 1028 606 1022 624.3 1019" fill="none" stroke="#000" stroke-width="5.6"/>
<circle cx="605.8" cy="1010.7" r="10.6" fill="#fff" stroke="#000" stroke-width="3.8"/>
<path d="M622.2 978.5 A40 11.2 0 1 0 580.9 981.2" fill="none" stroke="#000" stroke-width="3.8" stroke-linecap="butt"/>
<path d="M590.9 982.1 L578.6 974.4 L581.9 981.2 L577.2 988.1 Z" fill="#000"/>
<rect x="141.00" y="1345.20" width="4.20" height="470.80" fill="#000"/>
<rect x="141.00" y="1345.20" width="609.50" height="3.80" fill="#000"/>
<rect x="141.00" y="1811.00" width="609.50" height="5.00" fill="#000"/>
<rect x="745.50" y="1345.20" width="5.00" height="470.80" fill="#000"/>
<rect x="745.50" y="1347.00" width="497.50" height="3.80" fill="#000"/>
<rect x="745.50" y="1809.80" width="497.50" height="4.60" fill="#000"/>
<rect x="1238.40" y="1347.00" width="4.60" height="467.40" fill="#000"/>
<rect x="145.00" y="1461.60" width="2.30" height="4.00" fill="#000"/>
<rect x="145.00" y="1579.00" width="2.30" height="4.00" fill="#000"/>
<rect x="145.00" y="1696.00" width="2.30" height="4.00" fill="#000"/>
<rect x="322.78" y="1803.40" width="3.80" height="7.60" fill="#000"/>
<rect x="413.52" y="1803.40" width="3.80" height="7.60" fill="#000"/>
<rect x="504.26" y="1803.40" width="3.80" height="7.60" fill="#000"/>
<rect x="595.00" y="1803.40" width="3.80" height="7.60" fill="#000"/>
<rect x="685.74" y="1803.40" width="3.80" height="7.60" fill="#000"/>
<rect x="815.88" y="1796.20" width="3.40" height="13.80" fill="#000"/>
<rect x="855.06" y="1796.20" width="3.40" height="13.80" fill="#000"/>
<rect x="894.24" y="1796.20" width="3.40" height="13.80" fill="#000"/>
<rect x="933.42" y="1796.20" width="3.40" height="13.80" fill="#000"/>
<rect x="972.60" y="1796.20" width="3.40" height="13.80" fill="#000"/>
<rect x="1011.78" y="1796.20" width="3.40" height="13.80" fill="#000"/>
<rect x="1050.96" y="1796.20" width="3.40" height="13.80" fill="#000"/>
<rect x="1090.14" y="1796.20" width="3.40" height="13.80" fill="#000"/>
<rect x="1129.32" y="1796.20" width="3.40" height="13.80" fill="#000"/>
<rect x="1168.50" y="1796.20" width="3.40" height="13.80" fill="#000"/>
<rect x="1207.68" y="1796.20" width="3.40" height="13.80" fill="#000"/>
<circle cx="777" cy="1808.2" r="11.6"/>
<circle cx="816.3" cy="1447.7" r="11.6"/>
<circle cx="855.7" cy="1447.7" r="11.6"/>
<circle cx="895.5" cy="1447.7" r="11.6"/>
<text x="828.2" y="1460.6" font-size="39">(</text>
<text x="900.0" y="1460.6" font-size="39">)</text>
<rect x="279.00" y="1427.00" width="466.50" height="41.00" fill="#000"/>
<g><ellipse cx="275.5" cy="1435.0" rx="4.3" ry="9"/><ellipse cx="277.2" cy="1464.0" rx="4.3" ry="9"/><ellipse cx="278.9" cy="1437.2" rx="4.3" ry="9"/><ellipse cx="280.6" cy="1463.6" rx="4.3" ry="9"/><ellipse cx="282.3" cy="1431.3" rx="4.3" ry="9"/><ellipse cx="284.0" cy="1469.1" rx="4.3" ry="9"/><ellipse cx="285.7" cy="1429.8" rx="4.3" ry="9"/><ellipse cx="287.4" cy="1468.8" rx="4.3" ry="9"/><ellipse cx="289.1" cy="1431.8" rx="4.3" ry="9"/><ellipse cx="290.8" cy="1470.1" rx="4.3" ry="9"/><ellipse cx="292.5" cy="1429.4" rx="4.3" ry="9"/><ellipse cx="294.2" cy="1467.9" rx="4.3" ry="9"/><ellipse cx="295.9" cy="1429.4" rx="4.3" ry="9"/><ellipse cx="297.6" cy="1470.1" rx="4.3" ry="9"/><ellipse cx="299.3" cy="1432.1" rx="4.3" ry="9"/><ellipse cx="301.0" cy="1466.7" rx="4.3" ry="9"/><ellipse cx="302.7" cy="1433.4" rx="4.3" ry="9"/><ellipse cx="304.4" cy="1470.8" rx="4.3" ry="9"/><ellipse cx="306.1" cy="1431.9" rx="4.3" ry="9"/><ellipse cx="307.8" cy="1469.3" rx="4.3" ry="9"/><ellipse cx="309.5" cy="1429.7" rx="4.3" ry="9"/><ellipse cx="311.2" cy="1466.6" rx="4.3" ry="9"/><ellipse cx="312.9" cy="1431.4" rx="4.3" ry="9"/><ellipse cx="314.6" cy="1466.8" rx="4.3" ry="9"/><ellipse cx="316.3" cy="1429.9" rx="4.3" ry="9"/><ellipse cx="318.0" cy="1467.6" rx="4.3" ry="9"/><ellipse cx="319.7" cy="1429.1" rx="4.3" ry="9"/><ellipse cx="321.4" cy="1468.6" rx="4.3" ry="9"/><ellipse cx="323.1" cy="1431.0" rx="4.3" ry="9"/><ellipse cx="324.8" cy="1470.3" rx="4.3" ry="9"/><ellipse cx="326.5" cy="1431.3" rx="4.3" ry="9"/><ellipse cx="328.2" cy="1469.4" rx="4.3" ry="9"/><ellipse cx="329.9" cy="1431.2" rx="4.3" ry="9"/><ellipse cx="331.6" cy="1469.5" rx="4.3" ry="9"/><ellipse cx="333.3" cy="1431.1" rx="4.3" ry="9"/><ellipse cx="335.0" cy="1467.8" rx="4.3" ry="9"/><ellipse cx="336.7" cy="1433.5" rx="4.3" ry="9"/><ellipse cx="338.4" cy="1471.0" rx="4.3" ry="9"/><ellipse cx="340.1" cy="1432.8" rx="4.3" ry="9"/><ellipse cx="341.8" cy="1469.7" rx="4.3" ry="9"/><ellipse cx="343.5" cy="1430.4" rx="4.3" ry="9"/><ellipse cx="345.2" cy="1467.5" rx="4.3" ry="9"/><ellipse cx="346.9" cy="1430.3" rx="4.3" ry="9"/><ellipse cx="348.6" cy="1466.8" rx="4.3" ry="9"/><ellipse cx="350.3" cy="1432.4" rx="4.3" ry="9"/><ellipse cx="352.0" cy="1468.3" rx="4.3" ry="9"/><ellipse cx="353.7" cy="1432.8" rx="4.3" ry="9"/><ellipse cx="355.4" cy="1468.2" rx="4.3" ry="9"/><ellipse cx="357.1" cy="1433.3" rx="4.3" ry="9"/><ellipse cx="358.8" cy="1470.3" rx="4.3" ry="9"/><ellipse cx="360.5" cy="1429.0" rx="4.3" ry="9"/><ellipse cx="362.2" cy="1467.4" rx="4.3" ry="9"/><ellipse cx="363.9" cy="1433.1" rx="4.3" ry="9"/><ellipse cx="365.6" cy="1468.6" rx="4.3" ry="9"/><ellipse cx="367.3" cy="1433.4" rx="4.3" ry="9"/><ellipse cx="369.0" cy="1468.3" rx="4.3" ry="9"/><ellipse cx="370.7" cy="1429.3" rx="4.3" ry="9"/><ellipse cx="372.4" cy="1469.3" rx="4.3" ry="9"/><ellipse cx="374.1" cy="1432.5" rx="4.3" ry="9"/><ellipse cx="375.8" cy="1467.7" rx="4.3" ry="9"/><ellipse cx="377.5" cy="1429.4" rx="4.3" ry="9"/><ellipse cx="379.2" cy="1468.0" rx="4.3" ry="9"/><ellipse cx="380.9" cy="1433.3" rx="4.3" ry="9"/><ellipse cx="382.6" cy="1469.9" rx="4.3" ry="9"/><ellipse cx="384.3" cy="1429.5" rx="4.3" ry="9"/><ellipse cx="386.0" cy="1467.6" rx="4.3" ry="9"/><ellipse cx="387.7" cy="1429.5" rx="4.3" ry="9"/><ellipse cx="389.4" cy="1466.8" rx="4.3" ry="9"/><ellipse cx="391.1" cy="1432.6" rx="4.3" ry="9"/><ellipse cx="392.8" cy="1467.3" rx="4.3" ry="9"/><ellipse cx="394.5" cy="1431.5" rx="4.3" ry="9"/><ellipse cx="396.2" cy="1468.5" rx="4.3" ry="9"/><ellipse cx="397.9" cy="1429.9" rx="4.3" ry="9"/><ellipse cx="399.6" cy="1469.8" rx="4.3" ry="9"/><ellipse cx="401.3" cy="1429.6" rx="4.3" ry="9"/><ellipse cx="403.0" cy="1469.4" rx="4.3" ry="9"/><ellipse cx="404.7" cy="1429.5" rx="4.3" ry="9"/><ellipse cx="406.4" cy="1468.4" rx="4.3" ry="9"/><ellipse cx="408.1" cy="1430.0" rx="4.3" ry="9"/><ellipse cx="409.8" cy="1467.7" rx="4.3" ry="9"/><ellipse cx="411.5" cy="1433.4" rx="4.3" ry="9"/><ellipse cx="413.2" cy="1470.1" rx="4.3" ry="9"/><ellipse cx="414.9" cy="1430.4" rx="4.3" ry="9"/><ellipse cx="416.6" cy="1470.5" rx="4.3" ry="9"/><ellipse cx="418.3" cy="1429.9" rx="4.3" ry="9"/><ellipse cx="420.0" cy="1468.3" rx="4.3" ry="9"/><ellipse cx="421.7" cy="1432.8" rx="4.3" ry="9"/><ellipse cx="423.4" cy="1469.4" rx="4.3" ry="9"/><ellipse cx="425.1" cy="1429.5" rx="4.3" ry="9"/><ellipse cx="426.8" cy="1471.0" rx="4.3" ry="9"/><ellipse cx="428.5" cy="1430.0" rx="4.3" ry="9"/><ellipse cx="430.2" cy="1467.7" rx="4.3" ry="9"/><ellipse cx="431.9" cy="1432.5" rx="4.3" ry="9"/><ellipse cx="433.6" cy="1468.0" rx="4.3" ry="9"/><ellipse cx="435.3" cy="1430.3" rx="4.3" ry="9"/><ellipse cx="437.0" cy="1466.8" rx="4.3" ry="9"/><ellipse cx="438.7" cy="1429.4" rx="4.3" ry="9"/><ellipse cx="440.4" cy="1469.1" rx="4.3" ry="9"/><ellipse cx="442.1" cy="1430.1" rx="4.3" ry="9"/><ellipse cx="443.8" cy="1469.2" rx="4.3" ry="9"/><ellipse cx="445.5" cy="1430.7" rx="4.3" ry="9"/><ellipse cx="447.2" cy="1468.4" rx="4.3" ry="9"/><ellipse cx="448.9" cy="1433.3" rx="4.3" ry="9"/><ellipse cx="450.6" cy="1467.7" rx="4.3" ry="9"/><ellipse cx="452.3" cy="1431.6" rx="4.3" ry="9"/><ellipse cx="454.0" cy="1468.6" rx="4.3" ry="9"/><ellipse cx="455.7" cy="1429.8" rx="4.3" ry="9"/><ellipse cx="457.4" cy="1464.6" rx="4.3" ry="9"/><ellipse cx="459.1" cy="1433.1" rx="4.3" ry="9"/><ellipse cx="460.8" cy="1466.8" rx="4.3" ry="9"/><ellipse cx="462.5" cy="1430.1" rx="4.3" ry="9"/><ellipse cx="464.2" cy="1463.2" rx="4.3" ry="9"/><ellipse cx="465.9" cy="1432.3" rx="4.3" ry="9"/><ellipse cx="467.6" cy="1465.7" rx="4.3" ry="9"/><ellipse cx="469.3" cy="1429.9" rx="4.3" ry="9"/><ellipse cx="471.0" cy="1464.9" rx="4.3" ry="9"/><ellipse cx="472.7" cy="1433.0" rx="4.3" ry="9"/><ellipse cx="474.4" cy="1463.2" rx="4.3" ry="9"/><ellipse cx="476.1" cy="1430.9" rx="4.3" ry="9"/><ellipse cx="477.8" cy="1461.0" rx="4.3" ry="9"/><ellipse cx="479.5" cy="1429.2" rx="4.3" ry="9"/><ellipse cx="481.2" cy="1464.8" rx="4.3" ry="9"/><ellipse cx="482.9" cy="1430.1" rx="4.3" ry="9"/><ellipse cx="484.6" cy="1463.7" rx="4.3" ry="9"/><ellipse cx="486.3" cy="1430.2" rx="4.3" ry="9"/><ellipse cx="488.0" cy="1464.2" rx="4.3" ry="9"/><ellipse cx="489.7" cy="1431.7" rx="4.3" ry="9"/><ellipse cx="491.4" cy="1461.8" rx="4.3" ry="9"/><ellipse cx="493.1" cy="1429.8" rx="4.3" ry="9"/><ellipse cx="494.8" cy="1463.7" rx="4.3" ry="9"/><ellipse cx="496.5" cy="1429.3" rx="4.3" ry="9"/><ellipse cx="498.2" cy="1461.5" rx="4.3" ry="9"/><ellipse cx="499.9" cy="1431.5" rx="4.3" ry="9"/><ellipse cx="501.6" cy="1464.3" rx="4.3" ry="9"/><ellipse cx="503.3" cy="1431.8" rx="4.3" ry="9"/><ellipse cx="505.0" cy="1461.8" rx="4.3" ry="9"/><ellipse cx="506.7" cy="1433.1" rx="4.3" ry="9"/><ellipse cx="508.4" cy="1461.4" rx="4.3" ry="9"/><ellipse cx="510.1" cy="1429.1" rx="4.3" ry="9"/><ellipse cx="511.8" cy="1461.7" rx="4.3" ry="9"/><ellipse cx="513.5" cy="1431.0" rx="4.3" ry="9"/><ellipse cx="515.2" cy="1460.8" rx="4.3" ry="9"/><ellipse cx="516.9" cy="1429.8" rx="4.3" ry="9"/><ellipse cx="518.6" cy="1462.2" rx="4.3" ry="9"/><ellipse cx="520.3" cy="1431.6" rx="4.3" ry="9"/><ellipse cx="522.0" cy="1461.1" rx="4.3" ry="9"/><ellipse cx="523.7" cy="1430.6" rx="4.3" ry="9"/><ellipse cx="525.4" cy="1464.5" rx="4.3" ry="9"/><ellipse cx="527.1" cy="1433.4" rx="4.3" ry="9"/><ellipse cx="528.8" cy="1463.5" rx="4.3" ry="9"/><ellipse cx="530.5" cy="1432.1" rx="4.3" ry="9"/><ellipse cx="532.2" cy="1463.1" rx="4.3" ry="9"/><ellipse cx="533.9" cy="1429.6" rx="4.3" ry="9"/><ellipse cx="535.6" cy="1460.7" rx="4.3" ry="9"/><ellipse cx="537.3" cy="1429.1" rx="4.3" ry="9"/><ellipse cx="539.0" cy="1464.6" rx="4.3" ry="9"/><ellipse cx="540.7" cy="1432.2" rx="4.3" ry="9"/><ellipse cx="542.4" cy="1464.8" rx="4.3" ry="9"/><ellipse cx="544.1" cy="1429.1" rx="4.3" ry="9"/><ellipse cx="545.8" cy="1463.4" rx="4.3" ry="9"/><ellipse cx="547.5" cy="1431.2" rx="4.3" ry="9"/><ellipse cx="549.2" cy="1463.8" rx="4.3" ry="9"/><ellipse cx="550.9" cy="1430.4" rx="4.3" ry="9"/><ellipse cx="552.6" cy="1465.0" rx="4.3" ry="9"/><ellipse cx="554.3" cy="1429.3" rx="4.3" ry="9"/><ellipse cx="556.0" cy="1463.0" rx="4.3" ry="9"/><ellipse cx="557.7" cy="1432.3" rx="4.3" ry="9"/><ellipse cx="559.4" cy="1464.6" rx="4.3" ry="9"/><ellipse cx="561.1" cy="1432.3" rx="4.3" ry="9"/><ellipse cx="562.8" cy="1463.7" rx="4.3" ry="9"/><ellipse cx="564.5" cy="1432.6" rx="4.3" ry="9"/><ellipse cx="566.2" cy="1464.6" rx="4.3" ry="9"/><ellipse cx="567.9" cy="1430.6" rx="4.3" ry="9"/><ellipse cx="569.6" cy="1463.6" rx="4.3" ry="9"/><ellipse cx="571.3" cy="1433.1" rx="4.3" ry="9"/><ellipse cx="573.0" cy="1464.4" rx="4.3" ry="9"/><ellipse cx="574.7" cy="1430.9" rx="4.3" ry="9"/><ellipse cx="576.4" cy="1464.1" rx="4.3" ry="9"/><ellipse cx="578.1" cy="1432.9" rx="4.3" ry="9"/><ellipse cx="579.8" cy="1463.1" rx="4.3" ry="9"/><ellipse cx="581.5" cy="1431.8" rx="4.3" ry="9"/><ellipse cx="583.2" cy="1462.2" rx="4.3" ry="9"/><ellipse cx="584.9" cy="1431.6" rx="4.3" ry="9"/><ellipse cx="586.6" cy="1463.2" rx="4.3" ry="9"/><ellipse cx="588.3" cy="1429.4" rx="4.3" ry="9"/><ellipse cx="590.0" cy="1463.4" rx="4.3" ry="9"/><ellipse cx="591.7" cy="1433.5" rx="4.3" ry="9"/><ellipse cx="593.4" cy="1464.5" rx="4.3" ry="9"/><ellipse cx="595.1" cy="1432.3" rx="4.3" ry="9"/><ellipse cx="596.8" cy="1462.2" rx="4.3" ry="9"/><ellipse cx="598.5" cy="1432.3" rx="4.3" ry="9"/><ellipse cx="600.2" cy="1463.1" rx="4.3" ry="9"/><ellipse cx="601.9" cy="1431.0" rx="4.3" ry="9"/><ellipse cx="603.6" cy="1464.3" rx="4.3" ry="9"/><ellipse cx="605.3" cy="1429.4" rx="4.3" ry="9"/><ellipse cx="607.0" cy="1463.9" rx="4.3" ry="9"/><ellipse cx="608.7" cy="1429.1" rx="4.3" ry="9"/><ellipse cx="610.4" cy="1463.2" rx="4.3" ry="9"/><ellipse cx="612.1" cy="1431.2" rx="4.3" ry="9"/><ellipse cx="613.8" cy="1461.5" rx="4.3" ry="9"/><ellipse cx="615.5" cy="1432.1" rx="4.3" ry="9"/><ellipse cx="617.2" cy="1462.7" rx="4.3" ry="9"/><ellipse cx="618.9" cy="1431.8" rx="4.3" ry="9"/><ellipse cx="620.6" cy="1464.6" rx="4.3" ry="9"/><ellipse cx="622.3" cy="1430.2" rx="4.3" ry="9"/><ellipse cx="624.0" cy="1460.6" rx="4.3" ry="9"/><ellipse cx="625.7" cy="1430.4" rx="4.3" ry="9"/><ellipse cx="627.4" cy="1463.6" rx="4.3" ry="9"/><ellipse cx="629.1" cy="1429.9" rx="4.3" ry="9"/><ellipse cx="630.8" cy="1461.3" rx="4.3" ry="9"/><ellipse cx="632.5" cy="1433.1" rx="4.3" ry="9"/><ellipse cx="634.2" cy="1463.5" rx="4.3" ry="9"/><ellipse cx="635.9" cy="1431.0" rx="4.3" ry="9"/><ellipse cx="637.6" cy="1464.5" rx="4.3" ry="9"/><ellipse cx="639.3" cy="1430.5" rx="4.3" ry="9"/><ellipse cx="641.0" cy="1463.5" rx="4.3" ry="9"/><ellipse cx="642.7" cy="1429.9" rx="4.3" ry="9"/><ellipse cx="644.4" cy="1462.4" rx="4.3" ry="9"/><ellipse cx="646.1" cy="1432.6" rx="4.3" ry="9"/><ellipse cx="647.8" cy="1464.6" rx="4.3" ry="9"/><ellipse cx="649.5" cy="1433.0" rx="4.3" ry="9"/><ellipse cx="651.2" cy="1462.2" rx="4.3" ry="9"/><ellipse cx="652.9" cy="1431.6" rx="4.3" ry="9"/><ellipse cx="654.6" cy="1461.9" rx="4.3" ry="9"/><ellipse cx="656.3" cy="1429.6" rx="4.3" ry="9"/><ellipse cx="658.0" cy="1462.7" rx="4.3" ry="9"/><ellipse cx="659.7" cy="1432.8" rx="4.3" ry="9"/><ellipse cx="661.4" cy="1464.3" rx="4.3" ry="9"/><ellipse cx="663.1" cy="1432.2" rx="4.3" ry="9"/><ellipse cx="664.8" cy="1464.8" rx="4.3" ry="9"/><ellipse cx="666.5" cy="1430.2" rx="4.3" ry="9"/><ellipse cx="668.2" cy="1461.3" rx="4.3" ry="9"/><ellipse cx="669.9" cy="1431.0" rx="4.3" ry="9"/><ellipse cx="671.6" cy="1461.7" rx="4.3" ry="9"/><ellipse cx="673.3" cy="1430.0" rx="4.3" ry="9"/><ellipse cx="675.0" cy="1462.4" rx="4.3" ry="9"/><ellipse cx="676.7" cy="1431.8" rx="4.3" ry="9"/><ellipse cx="678.4" cy="1462.7" rx="4.3" ry="9"/><ellipse cx="680.1" cy="1430.4" rx="4.3" ry="9"/><ellipse cx="681.8" cy="1464.3" rx="4.3" ry="9"/><ellipse cx="683.5" cy="1433.4" rx="4.3" ry="9"/><ellipse cx="685.2" cy="1462.5" rx="4.3" ry="9"/><ellipse cx="686.9" cy="1429.3" rx="4.3" ry="9"/><ellipse cx="688.6" cy="1460.6" rx="4.3" ry="9"/><ellipse cx="690.3" cy="1432.9" rx="4.3" ry="9"/><ellipse cx="692.0" cy="1460.7" rx="4.3" ry="9"/><ellipse cx="693.7" cy="1432.2" rx="4.3" ry="9"/><ellipse cx="695.4" cy="1463.1" rx="4.3" ry="9"/><ellipse cx="697.1" cy="1430.4" rx="4.3" ry="9"/><ellipse cx="698.8" cy="1464.1" rx="4.3" ry="9"/><ellipse cx="700.5" cy="1429.1" rx="4.3" ry="9"/><ellipse cx="702.2" cy="1461.1" rx="4.3" ry="9"/><ellipse cx="703.9" cy="1431.0" rx="4.3" ry="9"/><ellipse cx="705.6" cy="1460.6" rx="4.3" ry="9"/><ellipse cx="707.3" cy="1432.7" rx="4.3" ry="9"/><ellipse cx="709.0" cy="1461.6" rx="4.3" ry="9"/><ellipse cx="710.7" cy="1429.6" rx="4.3" ry="9"/><ellipse cx="712.4" cy="1460.7" rx="4.3" ry="9"/><ellipse cx="714.1" cy="1431.8" rx="4.3" ry="9"/><ellipse cx="715.8" cy="1462.5" rx="4.3" ry="9"/><ellipse cx="717.5" cy="1431.8" rx="4.3" ry="9"/><ellipse cx="719.2" cy="1463.4" rx="4.3" ry="9"/><ellipse cx="720.9" cy="1432.6" rx="4.3" ry="9"/><ellipse cx="722.6" cy="1464.8" rx="4.3" ry="9"/><ellipse cx="724.3" cy="1432.1" rx="4.3" ry="9"/><ellipse cx="726.0" cy="1461.4" rx="4.3" ry="9"/><ellipse cx="727.7" cy="1431.1" rx="4.3" ry="9"/><ellipse cx="729.4" cy="1461.3" rx="4.3" ry="9"/><ellipse cx="731.1" cy="1429.0" rx="4.3" ry="9"/><ellipse cx="732.8" cy="1462.6" rx="4.3" ry="9"/><ellipse cx="734.5" cy="1432.2" rx="4.3" ry="9"/><ellipse cx="736.2" cy="1461.3" rx="4.3" ry="9"/><ellipse cx="737.9" cy="1430.2" rx="4.3" ry="9"/><ellipse cx="739.6" cy="1462.1" rx="4.3" ry="9"/><ellipse cx="741.3" cy="1432.1" rx="4.3" ry="9"/><ellipse cx="743.0" cy="1462.8" rx="4.3" ry="9"/><ellipse cx="744.0" cy="1431.8" rx="4.3" ry="9"/><ellipse cx="744.0" cy="1463.9" rx="4.3" ry="9"/><ellipse cx="283.0" cy="1425.4" rx="4.3" ry="9"/><ellipse cx="293.5" cy="1421.3" rx="4.3" ry="9"/><ellipse cx="299.2" cy="1421.0" rx="4.3" ry="9"/><ellipse cx="309.2" cy="1427.5" rx="4.3" ry="9"/><ellipse cx="317.4" cy="1423.5" rx="4.3" ry="9"/><ellipse cx="328.8" cy="1425.5" rx="4.3" ry="9"/><ellipse cx="337.7" cy="1421.5" rx="4.3" ry="9"/><ellipse cx="348.3" cy="1420.9" rx="4.3" ry="9"/><ellipse cx="356.6" cy="1423.3" rx="4.3" ry="9"/><ellipse cx="363.0" cy="1422.7" rx="4.3" ry="9"/><ellipse cx="373.7" cy="1423.4" rx="4.3" ry="9"/><ellipse cx="383.7" cy="1426.8" rx="4.3" ry="9"/><ellipse cx="395.0" cy="1420.7" rx="4.3" ry="9"/><ellipse cx="406.9" cy="1424.2" rx="4.3" ry="9"/><ellipse cx="417.4" cy="1425.9" rx="4.3" ry="9"/><ellipse cx="428.8" cy="1421.7" rx="4.3" ry="9"/><ellipse cx="436.2" cy="1427.8" rx="4.3" ry="9"/><ellipse cx="444.3" cy="1424.1" rx="4.3" ry="9"/><ellipse cx="454.7" cy="1424.6" rx="4.3" ry="9"/><ellipse cx="459.9" cy="1422.0" rx="4.3" ry="9"/><ellipse cx="465.3" cy="1422.1" rx="4.3" ry="9"/><ellipse cx="471.6" cy="1425.8" rx="4.3" ry="9"/><ellipse cx="482.1" cy="1427.4" rx="4.3" ry="9"/><ellipse cx="488.1" cy="1424.4" rx="4.3" ry="9"/><ellipse cx="498.2" cy="1421.8" rx="4.3" ry="9"/><ellipse cx="508.0" cy="1420.9" rx="4.3" ry="9"/><ellipse cx="516.4" cy="1420.9" rx="4.3" ry="9"/><ellipse cx="522.1" cy="1426.7" rx="4.3" ry="9"/><ellipse cx="530.7" cy="1426.2" rx="4.3" ry="9"/><ellipse cx="540.8" cy="1423.4" rx="4.3" ry="9"/><ellipse cx="549.5" cy="1421.8" rx="4.3" ry="9"/><ellipse cx="558.4" cy="1426.0" rx="4.3" ry="9"/><ellipse cx="566.1" cy="1421.7" rx="4.3" ry="9"/><ellipse cx="577.4" cy="1426.8" rx="4.3" ry="9"/><ellipse cx="588.3" cy="1420.8" rx="4.3" ry="9"/><ellipse cx="597.0" cy="1423.9" rx="4.3" ry="9"/><ellipse cx="603.4" cy="1424.2" rx="4.3" ry="9"/><ellipse cx="611.9" cy="1423.7" rx="4.3" ry="9"/><ellipse cx="617.1" cy="1420.7" rx="4.3" ry="9"/><ellipse cx="625.8" cy="1425.3" rx="4.3" ry="9"/><ellipse cx="636.4" cy="1424.0" rx="4.3" ry="9"/><ellipse cx="644.8" cy="1423.0" rx="4.3" ry="9"/><ellipse cx="650.3" cy="1424.2" rx="4.3" ry="9"/><ellipse cx="658.2" cy="1420.8" rx="4.3" ry="9"/><ellipse cx="669.6" cy="1426.3" rx="4.3" ry="9"/><ellipse cx="677.9" cy="1427.5" rx="4.3" ry="9"/><ellipse cx="686.0" cy="1422.0" rx="4.3" ry="9"/><ellipse cx="697.3" cy="1424.7" rx="4.3" ry="9"/><ellipse cx="704.5" cy="1427.0" rx="4.3" ry="9"/><ellipse cx="713.8" cy="1421.1" rx="4.3" ry="9"/><ellipse cx="719.7" cy="1422.3" rx="4.3" ry="9"/><ellipse cx="724.9" cy="1426.9" rx="4.3" ry="9"/><ellipse cx="731.5" cy="1423.0" rx="4.3" ry="9"/><ellipse cx="738.7" cy="1425.7" rx="4.3" ry="9"/><ellipse cx="280.0" cy="1472.5" rx="4.3" ry="9"/><ellipse cx="289.4" cy="1472.7" rx="4.3" ry="9"/><ellipse cx="297.4" cy="1474.0" rx="4.3" ry="9"/><ellipse cx="303.6" cy="1476.8" rx="4.3" ry="9"/><ellipse cx="311.3" cy="1475.3" rx="4.3" ry="9"/><ellipse cx="318.7" cy="1476.8" rx="4.3" ry="9"/><ellipse cx="324.7" cy="1473.5" rx="4.3" ry="9"/><ellipse cx="333.5" cy="1477.9" rx="4.3" ry="9"/><ellipse cx="341.7" cy="1480.0" rx="4.3" ry="9"/><ellipse cx="350.3" cy="1480.1" rx="4.3" ry="9"/><ellipse cx="356.7" cy="1478.9" rx="4.3" ry="9"/><ellipse cx="366.6" cy="1480.5" rx="4.3" ry="9"/><ellipse cx="373.5" cy="1474.6" rx="4.3" ry="9"/><ellipse cx="384.0" cy="1473.7" rx="4.3" ry="9"/><ellipse cx="395.0" cy="1480.4" rx="4.3" ry="9"/><ellipse cx="400.8" cy="1473.9" rx="4.3" ry="9"/><ellipse cx="410.2" cy="1474.1" rx="4.3" ry="9"/><ellipse cx="415.8" cy="1479.8" rx="4.3" ry="9"/><ellipse cx="423.3" cy="1479.4" rx="4.3" ry="9"/><ellipse cx="429.0" cy="1475.5" rx="4.3" ry="9"/><ellipse cx="438.2" cy="1471.7" rx="4.3" ry="9"/><ellipse cx="444.4" cy="1478.3" rx="4.3" ry="9"/><ellipse cx="454.8" cy="1478.8" rx="4.3" ry="9"/><ellipse cx="460.5" cy="1472.8" rx="4.3" ry="9"/><ellipse cx="470.1" cy="1470.5" rx="4.3" ry="9"/><ellipse cx="479.2" cy="1467.4" rx="4.3" ry="9"/><ellipse cx="484.6" cy="1466.6" rx="4.3" ry="9"/><ellipse cx="489.8" cy="1471.0" rx="4.3" ry="9"/><ellipse cx="497.9" cy="1471.2" rx="4.3" ry="9"/><ellipse cx="503.8" cy="1467.3" rx="4.3" ry="9"/><ellipse cx="510.0" cy="1473.9" rx="4.3" ry="9"/><ellipse cx="521.0" cy="1474.8" rx="4.3" ry="9"/><ellipse cx="526.5" cy="1466.1" rx="4.3" ry="9"/><ellipse cx="537.2" cy="1470.1" rx="4.3" ry="9"/><ellipse cx="546.8" cy="1468.8" rx="4.3" ry="9"/><ellipse cx="554.6" cy="1470.7" rx="4.3" ry="9"/><ellipse cx="562.2" cy="1471.5" rx="4.3" ry="9"/><ellipse cx="567.3" cy="1472.5" rx="4.3" ry="9"/><ellipse cx="577.4" cy="1467.3" rx="4.3" ry="9"/><ellipse cx="585.1" cy="1472.9" rx="4.3" ry="9"/><ellipse cx="592.5" cy="1467.5" rx="4.3" ry="9"/><ellipse cx="598.5" cy="1470.6" rx="4.3" ry="9"/><ellipse cx="603.6" cy="1474.4" rx="4.3" ry="9"/><ellipse cx="613.4" cy="1472.5" rx="4.3" ry="9"/><ellipse cx="623.6" cy="1471.8" rx="4.3" ry="9"/><ellipse cx="631.0" cy="1471.5" rx="4.3" ry="9"/><ellipse cx="639.0" cy="1475.3" rx="4.3" ry="9"/><ellipse cx="648.9" cy="1468.1" rx="4.3" ry="9"/><ellipse cx="659.3" cy="1472.9" rx="4.3" ry="9"/><ellipse cx="669.0" cy="1473.6" rx="4.3" ry="9"/><ellipse cx="676.4" cy="1474.5" rx="4.3" ry="9"/><ellipse cx="686.7" cy="1472.4" rx="4.3" ry="9"/><ellipse cx="696.3" cy="1473.2" rx="4.3" ry="9"/><ellipse cx="703.7" cy="1472.7" rx="4.3" ry="9"/><ellipse cx="709.2" cy="1468.9" rx="4.3" ry="9"/><ellipse cx="717.0" cy="1465.6" rx="4.3" ry="9"/><ellipse cx="724.1" cy="1471.9" rx="4.3" ry="9"/><ellipse cx="732.9" cy="1467.8" rx="4.3" ry="9"/><ellipse cx="743.5" cy="1472.2" rx="4.3" ry="9"/><ellipse cx="699.3" cy="1395.8" rx="4.3" ry="8.8"/><ellipse cx="701.0" cy="1397.0" rx="4.3" ry="8.8"/><ellipse cx="454.0" cy="1403.8" rx="4.3" ry="8.8"/><ellipse cx="306.0" cy="1403.8" rx="4.3" ry="8.8"/><ellipse cx="297.0" cy="1412.0" rx="4.3" ry="8.8"/><ellipse cx="250.7" cy="1483.6" rx="4.3" ry="8.8"/><ellipse cx="438.0" cy="1487.0" rx="4.3" ry="8.8"/><ellipse cx="546.3" cy="1487.0" rx="4.3" ry="8.8"/><ellipse cx="553.8" cy="1487.0" rx="4.3" ry="8.8"/><ellipse cx="562.7" cy="1487.0" rx="4.3" ry="8.8"/><ellipse cx="624.5" cy="1487.0" rx="4.3" ry="8.8"/><ellipse cx="637.0" cy="1492.0" rx="4.3" ry="8.8"/><ellipse cx="666.0" cy="1490.5" rx="4.3" ry="8.8"/><ellipse cx="735.7" cy="1497.0" rx="4.3" ry="8.8"/><ellipse cx="232.5" cy="1446.0" rx="4.3" ry="8.8"/><ellipse cx="236.0" cy="1440.0" rx="4.3" ry="8.8"/><ellipse cx="240.0" cy="1428.0" rx="4.3" ry="8.8"/><ellipse cx="240.0" cy="1438.0" rx="4.3" ry="8.8"/><ellipse cx="241.0" cy="1450.0" rx="4.3" ry="8.8"/><ellipse cx="242.0" cy="1460.0" rx="4.3" ry="8.8"/><ellipse cx="246.0" cy="1436.0" rx="4.3" ry="8.8"/><ellipse cx="247.0" cy="1449.0" rx="4.3" ry="8.8"/><ellipse cx="252.0" cy="1444.0" rx="4.3" ry="8.8"/><ellipse cx="254.5" cy="1446.0" rx="4.3" ry="8.8"/><ellipse cx="243.5" cy="1427.0" rx="4.3" ry="8.8"/><ellipse cx="237.0" cy="1452.0" rx="4.3" ry="8.8"/><ellipse cx="263.9" cy="1435.4" rx="4.3" ry="8.8"/></g>
<rect x="139.8" y="1804.5" width="142" height="17.5" rx="8"/>
<rect x="208.5" y="1800.3" width="27" height="14" rx="5"/>
<ellipse cx="153" cy="1806" rx="5" ry="6.5"/>
<text x="0.57" y="1367.00" font-size="36.0">(<tspan font-style="italic">c</tspan>)</text>
<text x="66.52" y="1473.60" font-size="36.0">300</text>
<text x="66.52" y="1592.00" font-size="36.0">200</text>
<text x="66.52" y="1709.70" font-size="36.0">100</text>
<text x="106.55" y="1827.00" font-size="36.0">0</text>
<text x="131.76" y="1860.60" font-size="36.0" >0</text>
<text x="296.41" y="1860.60" font-size="36.0" >400</text>
<text x="475.92" y="1860.40" font-size="36.0" >800</text>
<text x="646.76" y="1860.40" font-size="36.0" >1200</text>
<text transform="translate(390.90 1914.40) scale(1.015 1)" font-size="36.0" >Time (s)</text>
<text transform="translate(33.60 1671.15) rotate(-90) scale(0.9551 1)" font-size="37.6">Speed (Hz)</text>
<text x="768.96" y="1860.10" font-size="36.0">0</text>
<text x="809.16" y="1860.10" font-size="36.0">1</text>
<text x="846.49" y="1860.10" font-size="36.0">2</text>
<text x="886.15" y="1860.10" font-size="36.0">3</text>
<text x="924.74" y="1860.10" font-size="36.0">4</text>
<text x="963.88" y="1860.10" font-size="36.0">5</text>
<text x="1003.08" y="1860.10" font-size="36.0">6</text>
<text x="1042.66" y="1860.10" font-size="36.0">7</text>
<text x="1081.84" y="1860.10" font-size="36.0">8</text>
<text x="1120.63" y="1860.10" font-size="36.0">9</text>
<text x="1154.24" y="1860.10" font-size="36.0">10</text>
<text x="1197.74" y="1860.10" font-size="36.0">11</text>
<text transform="translate(810.80 1914.40) scale(1.0132 1)" font-size="36.0" >Torque generator number</text>
<text transform="translate(307.57 1381.60) scale(1.036 1)" font-size="27" >1 (2, 3 ...)</text>
<rect x="505.4" y="1747.2" width="203.6" height="9.3" fill="url(#gg)"/>
<rect x="556.6" y="1694.3" width="124.3" height="50.9" rx="25.5" fill="#b2b2b2" stroke="#000" stroke-width="4"/>
<path d="M590.5 1692.5 C594 1688 597 1686 603.5 1684.5" fill="none" stroke="#000" stroke-width="5.6"/>
<circle cx="592.3" cy="1679.7" r="5.2" fill="#b0b0b0" stroke="#000" stroke-width="3"/>
<path d="M613.5 1653.7 A40 11.2 0 1 0 572.1 1656.8" fill="none" stroke="#000" stroke-width="3.8" stroke-linecap="butt"/>
<path d="M582.4 1657.5 L569.8 1650 L573.1 1656.8 L568.5 1663.5 Z" fill="#000"/>
</svg>
</body></html>
